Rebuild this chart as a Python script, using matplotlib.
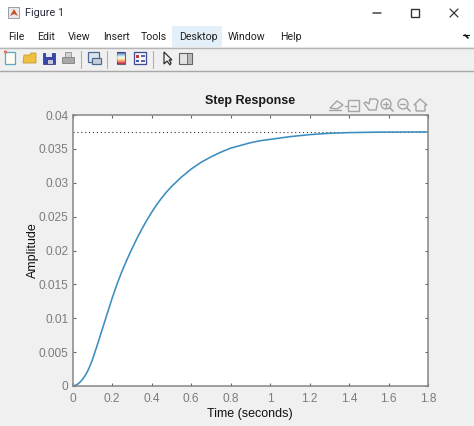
import numpy as np
import matplotlib
matplotlib.use('Agg')
import matplotlib.pyplot as plt
from matplotlib.patches import Rectangle, Circle, Polygon

plt.rcParams['font.family'] = 'sans-serif'
plt.rcParams['font.sans-serif'] = 'Liberation Sans'

# step response
time_s = [0, 0.0125, 0.025, 0.0375, 0.05, 0.0625, 0.075, 0.0875, 0.1, 0.1125, 0.125, 0.15,
          0.175, 0.2, 0.225, 0.25, 0.275, 0.3, 0.325, 0.35, 0.375, 0.4, 0.425, 0.45, 0.475,
          0.5, 0.55, 0.6, 0.65, 0.7, 0.75, 0.8, 0.85, 0.9, 0.95, 1.0, 1.1, 1.2, 1.3, 1.4,
          1.5, 1.6, 1.8]
amplitude = [0, 0.00007, 0.00025, 0.00055, 0.00095, 0.00148, 0.0021, 0.0029, 0.0038, 0.0049,
             0.006, 0.0083, 0.0106, 0.0129, 0.015, 0.0169, 0.0186, 0.0202, 0.0217, 0.0231,
             0.0244, 0.0256, 0.0267, 0.0277, 0.0286, 0.0294, 0.0308, 0.032, 0.033, 0.0338,
             0.0345, 0.0351, 0.0355, 0.0359, 0.0362, 0.0364, 0.0368, 0.0371, 0.0373, 0.0374,
             0.03745, 0.03748, 0.0375]
final_value = 0.0375

x_ticks = [0, 0.2, 0.4, 0.6, 0.8, 1, 1.2, 1.4, 1.6, 1.8]
x_labels = ['0', '0.2', '0.4', '0.6', '0.8', '1', '1.2', '1.4', '1.6', '1.8']
y_ticks = [0, 0.005, 0.01, 0.015, 0.02, 0.025, 0.03, 0.035, 0.04]
y_labels = ['0', '0.005', '0.01', '0.015', '0.02', '0.025', '0.03', '0.035', '0.04']

menu_names = ['File', 'Edit', 'View', 'Insert', 'Tools', 'Desktop', 'Window', 'Help']
menu_x = [8, 37, 68, 103, 141, 179, 228, 280]

W, H = 474, 426
gray = '#868686'
fig = plt.figure(figsize=(W / 100, H / 100), dpi=100, facecolor='#f0f0f0')

# window chrome, in pixel coordinates
bg = fig.add_axes([0, 0, 1, 1], zorder=0)
bg.set_xlim(0, W)
bg.set_ylim(H, 0)
bg.axis('off')


def box(x, y, w, h, fc='none', ec='none', lw=1.0):
    bg.add_patch(Rectangle((x, y), w, h, fc=fc, ec=ec, lw=lw))


def line(xs, ys, c='#555555', lw=1.0):
    bg.plot(xs, ys, color=c, lw=lw, solid_capstyle='round')


box(0, 0, W, 47, fc='white')
box(172, 26, 50, 21, fc='#e3f0fa')
line([0, W], [47.5, 47.5], c='#b4b4b4')
line([0, W], [70.5, 70.5], c='#a8a8a8')

# title bar
box(8, 7, 11, 11, fc='#e9e9ee', ec='#8a90a0', lw=0.6)
bg.add_patch(Polygon([[10, 16], [14, 9], [18, 16], [14, 14]], fc='#c8502a'))
bg.text(25.5, 13.5, 'Figure 1', fontsize=7.8, family='Roboto', color='#2a2a40', va='center')
line([373, 381], [12.7, 12.7], c='#444444', lw=1.1)
box(411, 9, 8, 8, ec='#333333', lw=1.0)
line([450, 458], [9, 17], c='#333333', lw=0.9)
line([450, 458], [17, 9], c='#333333', lw=0.9)

# menu
for name, mx in zip(menu_names, menu_x):
    bg.text(mx, 37, name, fontsize=7.6, family='Roboto', color='#222222', va='center')
line([465, 468], [35, 38], c='#111111', lw=1.2)
line([463, 469], [35, 35], c='#111111', lw=0.9)

# toolbar icons
box(5, 52, 10, 12, fc='#fdfdf2', ec='#58a8c8', lw=0.9)
bg.add_patch(Circle((5.5, 52), 1.6, fc='#e07060'))
bg.add_patch(Polygon([[23, 63], [24, 55], [30, 55], [31, 53], [36, 53], [36, 63]], fc='#f0c040', ec='#c09830', lw=0.6))
box(43, 53, 12, 11, fc='#3848a8', ec='#28307a', lw=0.5)
box(46, 53, 6, 4, fc='#e8e8f0')
box(48, 60, 5, 4, fc='#c8c8d8')
box(62, 57, 12, 6, fc='#a8a8a8', ec='#707070', lw=0.5)
box(65, 52, 6, 5, fc='#d0d0d0', ec='#808080', lw=0.5)
for sx in [81.5, 107.5, 153]:
    line([sx, sx], [51, 68], c='#b0b0b0', lw=0.8)
box(88, 52, 11, 10, fc='#dde4ee', ec='#4a6a90', lw=0.9)
box(92, 58, 9, 6, fc='#c8d0dc', ec='#4a6a90', lw=0.9)
grad = np.linspace(0, 1, 12).reshape(-1, 1)
bg.imshow(grad, extent=[117, 125, 64, 52], aspect='auto', cmap='RdYlBu_r', alpha=0.75, zorder=2)
box(117, 52, 8, 12, ec='#606878', lw=0.8)
box(134, 52, 12, 12, fc='#f4f4fa', ec='#404a90', lw=0.9)
box(136, 55, 3, 2.5, fc='#c83838')
box(136, 59.5, 3, 2.5, fc='#3858b8')
box(141, 55, 4, 1.5, fc='#5868a0')
box(141, 60, 4, 1.5, fc='#5868a0')
bg.add_patch(Polygon([[164, 52], [164, 64], [167, 61], [170, 65], [171, 63], [169, 60], [172, 60]],
                     fc='#f4f4f4', ec='#303030', lw=0.9))
box(179, 53, 13, 11, fc='#e4e4e4', ec='#606060', lw=0.8)
box(187, 53, 5, 11, fc='#b8b8b8', ec='#606060', lw=0.6)

# axes toolbar
ic = '#a4a4a4'
line([329, 341], [110, 110], c=ic, lw=1.0)
bg.add_patch(Polygon([[330, 108], [337, 101], [343, 105], [337, 109]], fc='none', ec=ic, lw=1.0))
box(348, 100, 11, 11, ec=ic, lw=1.0)
line([351, 356], [105.5, 105.5], c=ic)
line([345, 348], [105.5, 105.5], c=ic)
bg.add_patch(Polygon([[369, 110], [364, 103], [366, 102], [369, 104], [370, 99], [373, 99], [376, 99],
                     [378, 101], [376, 110]], fc='none', ec=ic, lw=1.0))
for cx, plus in [(386, True), (403, False)]:
    bg.add_patch(Circle((cx, 104), 5, fc='none', ec=ic, lw=1.0))
    line([cx + 3.5, cx + 7], [107.5, 111], c=ic, lw=1.2)
    line([cx - 2.5, cx + 2.5], [104, 104], c=ic)
    if plus:
        line([cx, cx], [101.5, 106.5], c=ic)
bg.add_patch(Polygon([[414, 105], [420, 99], [427, 105], [425, 105], [425, 111], [416, 111], [416, 105]],
                     fc='none', ec=ic, lw=1.0))
bg.set_xlim(0, W)
bg.set_ylim(H, 0)

# the plot itself
left, right, top, bottom = 72.5, 428, 115, 386
ax = fig.add_axes([left / W, 1 - bottom / H, (right - left) / W, (bottom - top) / H], zorder=1)
ax.plot([0, 1.8], [final_value, final_value], color='#333333', lw=0.8, linestyle=(0, (1, 2.5)))
ax.plot(time_s, amplitude, color='#3c8dbf', lw=1.15)
ax.set_xlim(0, 1.8)
ax.set_ylim(0, 0.04)
ax.set_xticks(x_ticks)
ax.set_xticklabels(x_labels)
ax.set_yticks(y_ticks)
ax.set_yticklabels(y_labels)
ax.tick_params(direction='in', length=2.5, width=0.8, color='#666666', labelcolor='#7c7c7c',
               labelsize=8.6, top=True, right=True)
ax.tick_params(axis='x', pad=5)
ax.tick_params(axis='y', pad=3)
for sp in ax.spines.values():
    sp.set_color(gray)
    sp.set_linewidth(1.1)
ax.set_title('Step Response', fontsize=9.0, fontweight='bold', color='#1a1a1a', pad=8)
ax.set_xlabel('Time (seconds)', fontsize=9.0, color='#111111', labelpad=2)
ax.set_ylabel('Amplitude', fontsize=9.0, color='#111111', labelpad=0)

fig.savefig('out.png', dpi=100, facecolor=fig.get_facecolor())
